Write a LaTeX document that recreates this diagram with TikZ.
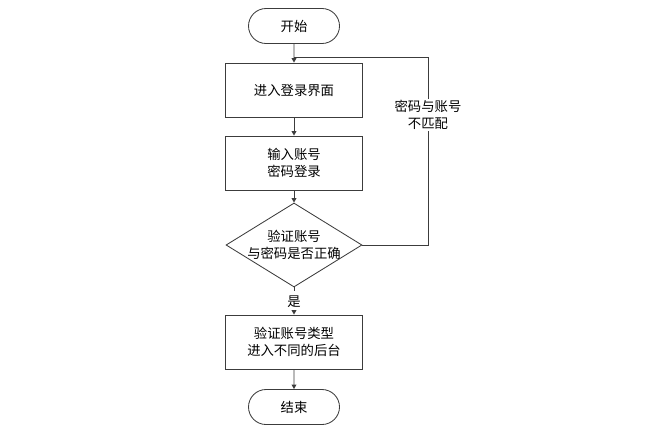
\documentclass[tikz,border=0pt]{standalone}
\usepackage{fontspec}
\setmainfont{Noto Sans CJK SC}
\usetikzlibrary{shapes.geometric,shapes.misc,arrows.meta}
\definecolor{linegray}{RGB}{60,60,60}

\tikzset{
  terminal/.style={draw=linegray, rounded rectangle, minimum width=2.275cm, minimum height=0.875cm, inner sep=0pt},
  process/.style={draw=linegray, rectangle, minimum width=3.425cm, minimum height=1.35cm, align=center, inner sep=0pt},
  decision/.style={draw=linegray, diamond, minimum width=3.4cm, minimum height=2.1cm, inner sep=0pt},
  flow/.style={draw=linegray, -{Triangle[width=3.4pt,length=3.2pt]}},
  loop/.style={draw=linegray}
}

\begin{document}
\begin{tikzpicture}[font=\fontsize{9.5}{12}\selectfont, line width=0.6pt]

% Page
\useasboundingbox (0,0) rectangle (16.25,10.725);

% Nodes
\node[terminal] (start) at (7.35,10.075) {开始};
\node[process] (login) at (7.35,8.475) {进入登录界面};
\node[process] (input) at (7.35,6.65) {输入账号\\密码登录};
\node[decision] (check) at (7.35,4.6) {};
\node[align=center] (checktext) at (check.center) {验证账号\\与密码是否正确};
\node (yes) at (7.35,3.175) {是};
\node[process] (route) at (7.35,2.175) {验证账号类型\\进入不同的后台};
\node[terminal] (stop) at (7.35,0.55) {结束};

% Loop corners
\coordinate (looptop) at (10.7,9.3);
\coordinate (join) at (7.35,9.3);

% Connectors
\draw[flow] (start) -- (login);
\draw[flow] (login) -- (input);
\draw[flow] (input) -- (check);
\draw[loop] (check.south) -- (yes);
\draw[flow] (yes) -- (route);
\draw[flow] (route) -- (stop);
\draw[loop] (check.east) -| (looptop) -- (join);

% Loop label
\node[fill=white, align=center, inner sep=1pt] (mismatch) at (10.7,7.85) {密码与账号\\不匹配};

\end{tikzpicture}
\end{document}
